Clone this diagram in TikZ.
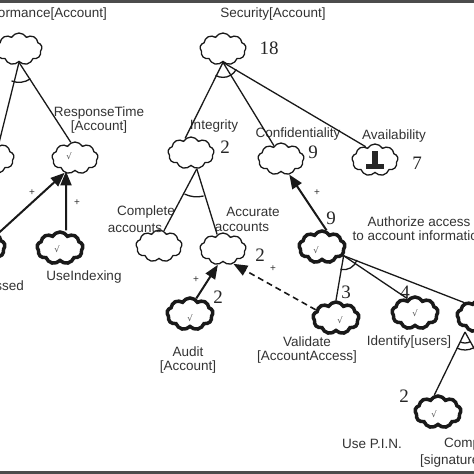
\documentclass[tikz,border=0pt]{standalone}
\usepackage{fontspec}
\setmainfont{Liberation Sans}
\newfontfamily\numfont{Liberation Serif}
\newfontfamily\symfont{DejaVu Sans}
\usetikzlibrary{shapes.symbols,arrows.meta,calc}
\begin{document}
\begin{tikzpicture}[x=1pt,y=-1pt,
  sg/.style={cloud, cloud puffs=9, cloud puff arc=120, aspect=1.45, draw=black!90, line width=1.3pt, minimum width=46pt, minimum height=32pt, inner sep=0pt},
  bsg/.style={sg, line width=3.5pt},
  lbl/.style={font=\fontsize{13.5}{15}\selectfont, text=black!80, inner sep=0pt},
  num/.style={font=\numfont\fontsize{19}{19}\selectfont, text=black!85, inner sep=0pt},
  pl/.style={font=\fontsize{10}{10}\selectfont, text=black!80, inner sep=0pt},
  chk/.style={font=\symfont\fontsize{8.5}{8.5}\selectfont, text=black!70, inner sep=0pt},
  ln/.style={line width=1.3pt, draw=black!90},
  arr/.style={line width=2pt, draw=black!90, -{Triangle[length=14pt,width=11pt]}},
  darr/.style={line width=1.6pt, draw=black!90, dash pattern=on 6pt off 4pt, -{Triangle[length=14pt,width=11pt]}}
]
\useasboundingbox (0,0) rectangle (474,474);
\begin{scope}
\clip (0,0) rectangle (474,474);
\fill[white] (0,0) rectangle (474,474);
\fill[black!70] (0,0) rectangle (474,3);
\fill[black!70] (0,471) rectangle (474,474);

% ---------- Performance side ----------
\node[lbl, anchor=east] (perft) at (107,14) {Performance[Account]};
\node[sg] (perf) at (19,49) {};
\node[sg] (perfl) at (-9,158) {};
\node[sg] (resp) at (75,158) {};
\node[chk] (respc) at (69,156) {√};
\node[lbl, align=center] (respt) at (99,120) {ResponseTime\\[-1pt][Account]};
\node[bsg] (usel) at (-18,247) {};
\node[lbl, anchor=east] (uselt) at (24,287) {UseUncompressed};
\node[bsg] (useidx) at (60,248) {};
\node[chk] (useidxc) at (57,249) {√};
\node[lbl] (useidxt) at (84,277) {UseIndexing};

\coordinate (pap) at (perf.south);
\draw[ln] (pap) -- (perfl.60);
\draw[ln] (pap) -- (resp.105);
\draw[ln] ($(pap)+(112:20)$) arc[start angle=112, end angle=55, radius=20];
\draw[arr] (usel.40) -- (resp.-125);
\node[pl] (p1) at (32,193) {+};
\draw[arr] ([xshift=6pt]useidx.north) -- ([xshift=-9pt]resp.south);
\node[pl] (p2) at (77,203) {+};

% ---------- Security side ----------
\node[lbl] (sect) at (273,14) {Security[Account]};
\node[sg] (sec) at (223,49) {};
\node[num] (n18) at (269,48) {18};
\node[sg] (integ) at (191,153) {};
\node[lbl] (integt) at (214,126) {Integrity};
\node[num] (n2a) at (225,147) {2};
\node[sg] (conf) at (281,159) {};
\node[lbl] (conft) at (298,134) {Confidentiality};
\node[num] (n9a) at (313,152) {9};
\node[sg] (avail) at (375,160) {};
\node[lbl] (availt) at (394,136) {Availability};
\node[num] (n7) at (417,163) {7};
\fill[black!85] (372,151) rectangle (378,165);
\fill[black!85] (366,164) rectangle (384,169);

\coordinate (sap) at (sec.south);
\draw[ln] (sap) -- (integ.112);
\draw[ln] (sap) -- (conf.118);
\draw[ln] (sap) -- (avail.125);
\draw[ln] ($(sap)+(120:15)$) arc[start angle=120, end angle=28, radius=15];

\node[sg] (compl) at (159,246) {};
\node[lbl] (complt1) at (146,212) {Complete};
\node[lbl] (complt2) at (135,228) {accounts};
\node[sg] (accur) at (223,249) {};
\node[lbl] (accurt1) at (253,212) {Accurate};
\node[lbl] (accurt2) at (242,227) {accounts};
\node[num] (n2b) at (260,255) {2};

\coordinate (iap) at (integ.-70);
\draw[ln] (iap) -- (compl.72);
\draw[ln] (iap) -- (accur.112);
\draw[ln] ($(iap)+(116:28)$) arc[start angle=116, end angle=76, radius=28];

\node[bsg] (audit) at (190,314) {};
\node[chk] (auditc) at (190,318) {√};
\node[lbl, align=center] (auditt) at (188,360) {Audit\\[-1pt][Account]};
\node[num] (n2c) at (218,297) {2};
\draw[arr] (audit.68) -- (accur.-108);
\node[pl] (p3) at (196,280) {+};

\node[bsg] (auth) at (322,247) {};
\node[chk] (authc) at (316,250) {√};
\node[lbl, align=center] (autht) at (419,229) {Authorize access\\[-1pt]to account information};
\node[num] (n9b) at (331,218) {9};
\draw[arr] (auth.75) -- (conf.-62);
\node[pl] (p4) at (317,193) {+};

\node[bsg] (valid) at (336,318) {};
\node[chk] (validc) at (340,320) {√};
\node[lbl, align=center] (validt) at (307,350) {Validate\\[-1pt][AccountAccess]};
\node[num] (n3) at (346,292) {3};
\draw[darr] (valid.158) -- (accur.-55);
\node[pl] (p5) at (273,269) {+};

\node[bsg] (ident) at (415,313) {};
\node[chk] (identc) at (415,313) {√};
\node[lbl] (identt) at (409,342) {Identify[users]};
\node[num] (n4) at (405,292) {4};

\node[bsg] (cmp) at (480,316) {};

\coordinate (aap) at (auth.-22);
\draw[ln] (aap) -- (valid.north);
\draw[ln] (aap) -- (ident.118);
\draw[ln] (aap) -- (cmp.140);
\draw[ln] ($(aap)+(103:14)$) arc[start angle=103, end angle=18, radius=14];

\node[bsg] (pin) at (438,412) {};
\node[chk] (pinc) at (434,414) {√};
\node[lbl] (pint) at (372,444) {Use P.I.N.};
\node[num] (n2d) at (404,396) {2};
\node[lbl, anchor=west] (cmpt1) at (444,444) {Compare};
\node[lbl, anchor=west] (cmpt2) at (420,461) {[signature]};

\coordinate (cap) at (465,332);
\coordinate (cmpr) at (500,395);
\draw[ln] (cap) -- (pin.102);
\draw[ln] (cap) -- (cmpr);
\draw[ln] ($(cap)+(117:11)$) arc[start angle=117, end angle=61, radius=11];
\draw[ln] ($(cap)+(117:18)$) arc[start angle=117, end angle=61, radius=18];
\end{scope}
\end{tikzpicture}
\end{document}
